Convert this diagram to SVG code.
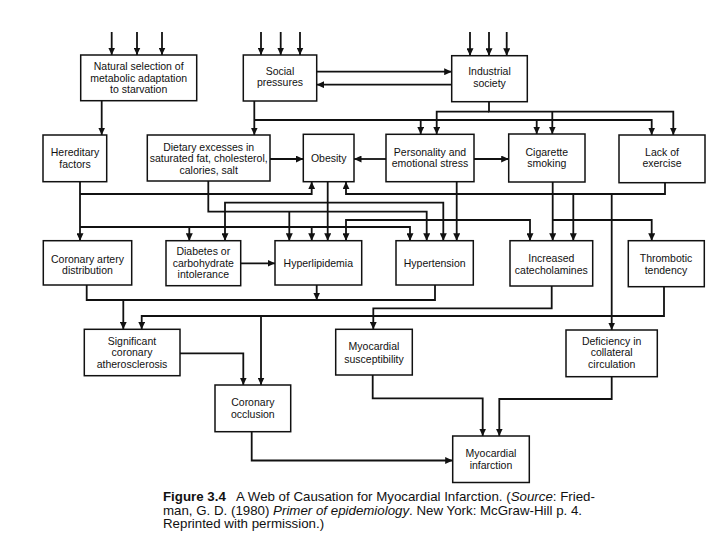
<svg xmlns="http://www.w3.org/2000/svg" width="720" height="540" viewBox="0 0 720 540">
<style>
.box{fill:#fff;stroke:#111;stroke-width:1.5}
.t{font-family:"Liberation Sans",Arial,Helvetica,sans-serif;font-size:10.5px;fill:#111;text-anchor:middle}
.c{fill:none;stroke:#111;stroke-width:1.8}
.a{marker-end:url(#ah)}
.cap{font-family:"Liberation Sans",Arial,Helvetica,sans-serif;font-size:13.3px;fill:#111}
</style>
<defs>
<marker id="ah" markerUnits="userSpaceOnUse" markerWidth="8" markerHeight="7" refX="7.5" refY="3.5" orient="auto">
<path d="M0,0 L7.5,3.5 L0,7 z" fill="#111"/>
</marker>
</defs>
<rect width="720" height="540" fill="#fff"/>

<g id="connectors">
<!-- incoming top arrows -->
<path class="c a" d="M111.7,32 V55"/>
<path class="c a" d="M137,32 V55"/>
<path class="c a" d="M162,32 V55"/>
<path class="c a" d="M261,32 V55"/>
<path class="c a" d="M280.7,32 V55"/>
<path class="c a" d="M300,32 V55"/>
<path class="c a" d="M470,32 V55.7"/>
<path class="c a" d="M489,32 V55.7"/>
<path class="c a" d="M506.7,32 V55.7"/>
<!-- top row -->
<path class="c a" d="M101.7,100.7 V135"/>
<path class="c a" d="M316.7,71.7 H451.7"/>
<path class="c a" d="M451.7,84.7 H316.7"/>
<path class="c a" d="M254.3,101 V135"/>
<path class="c a" d="M254.3,120 H651.7 V135"/>
<path class="c a" d="M420.7,120 V134.3"/>
<path class="c a" d="M536.7,120 V134"/>
<path class="c a" d="M489,101.7 V111.7 H673.3 V135"/>
<path class="c a" d="M489,111.7 H436.7 V134.3"/>
<path class="c a" d="M552.3,111.7 V134"/>
<!-- second row horizontals -->
<path class="c a" d="M270,159 H303.3"/>
<path class="c a" d="M386,159 H354"/>
<path class="c a" d="M474,159 H508.7"/>
<!-- hereditary -->
<path class="c a" d="M80,181.7 V240.7"/>
<path class="c a" d="M80,194 H311.7 V181.7"/>
<path class="c a" d="M80,227 H410 V240.7"/>
<path class="c a" d="M189.3,227 V240.7"/>
<path class="c a" d="M311.7,227 V240.7"/>
<!-- dietary -->
<path class="c a" d="M208.3,181 V211.7 H426.7 V240.7"/>
<path class="c a" d="M289.3,211.7 V240.7"/>
<!-- obesity -->
<path class="c a" d="M327.7,181.7 V240.7"/>
<path class="c a" d="M327.7,202.7 H225 V240.7"/>
<path class="c a" d="M327.7,202.7 H443.3 V240.7"/>
<!-- lack of exercise -->
<path class="c a" d="M665,182.7 V194 H346 V181.7"/>
<path class="c a" d="M573.3,194 V240.7"/>
<path class="c a" d="M611.7,194 V330"/>
<!-- personality -->
<path class="c a" d="M456.7,181.7 V240.7"/>
<path class="c a" d="M456.7,220 H346 V240.7"/>
<path class="c a" d="M456.7,220 H530 V240.7"/>
<!-- cigarette -->
<path class="c a" d="M552.7,182 V240.7"/>
<path class="c a" d="M552.7,220 H651.7 V240.7"/>
<!-- third row to fourth -->
<path class="c" d="M86.7,285 V300 H435 V285"/>
<path class="c a" d="M316.7,285 V300"/>
<path class="c a" d="M123.3,300 V329.3"/>
<path class="c a" d="M551.7,286 V308.3 H373.3 V329.3"/>
<path class="c a" d="M664,286.7 V316 H141.7 V329.3"/>
<path class="c a" d="M261,316 V385"/>
<path class="c a" d="M180,353.3 H243.3 V385"/>
<path class="c a" d="M251.7,431.7 V460.5 H452.7"/>
<path class="c a" d="M372.7,375 V398.3 H482.7 V436"/>
<path class="c a" d="M611.7,376.7 V399 H499.3 V436"/>
</g>

<g id="natural-selection"><rect class="box" x="80.7" y="55" width="116" height="45.7"/>
<text class="t" x="138.7" y="70">Natural selection of</text><text class="t" x="138.7" y="81.5">metabolic adaptation</text><text class="t" x="138.7" y="93">to starvation</text></g>
<g id="social-pressures"><rect class="box" x="243.3" y="55" width="73.4" height="46"/>
<text class="t" x="280" y="74.5">Social</text><text class="t" x="280" y="86">pressures</text></g>
<g id="industrial-society"><rect class="box" x="451.7" y="55.7" width="75.6" height="46"/>
<text class="t" x="489.5" y="75">Industrial</text><text class="t" x="489.5" y="86.5">society</text></g>
<g id="hereditary-factors"><rect class="box" x="43" y="135" width="63.7" height="46.7"/>
<text class="t" x="75" y="156">Hereditary</text><text class="t" x="75" y="167.5">factors</text></g>
<g id="dietary-excesses"><rect class="box" x="147.3" y="135" width="122.7" height="46"/>
<text class="t" x="208.7" y="150.5">Dietary excesses in</text><text class="t" x="208.7" y="162">saturated fat, cholesterol,</text><text class="t" x="208.7" y="173.5">calories, salt</text></g>
<g id="obesity"><rect class="box" x="303.3" y="134.3" width="50.7" height="47.4"/>
<text class="t" x="328.7" y="161.5">Obesity</text></g>
<g id="personality"><rect class="box" x="386" y="134.3" width="88" height="47.4"/>
<text class="t" x="430" y="155.5">Personality and</text><text class="t" x="430" y="167">emotional stress</text></g>
<g id="cigarette-smoking"><rect class="box" x="508.7" y="134" width="76.3" height="48"/>
<text class="t" x="546.8" y="155.5">Cigarette</text><text class="t" x="546.8" y="167">smoking</text></g>
<g id="lack-of-exercise"><rect class="box" x="619" y="135" width="86" height="47.7"/>
<text class="t" x="662" y="155.5">Lack of</text><text class="t" x="662" y="167">exercise</text></g>
<g id="coronary-artery-distribution"><rect class="box" x="43.3" y="240.7" width="88.4" height="44.3"/>
<text class="t" x="87.5" y="262.8">Coronary artery</text><text class="t" x="87.5" y="274">distribution</text></g>
<g id="diabetes"><rect class="box" x="166" y="240.7" width="74.7" height="45"/>
<text class="t" x="203.3" y="255">Diabetes or</text><text class="t" x="203.3" y="266.5">carbohydrate</text><text class="t" x="203.3" y="278">intolerance</text></g>
<path class="c a" d="M240.7,263.3 H275"/>
<g id="hyperlipidemia"><rect class="box" x="275" y="240.7" width="86.7" height="44.3"/>
<text class="t" x="318.3" y="266.5">Hyperlipidemia</text></g>
<g id="hypertension"><rect class="box" x="396" y="240.7" width="77.3" height="44.3"/>
<text class="t" x="434.7" y="266.5">Hypertension</text></g>
<g id="increased-catecholamines"><rect class="box" x="510" y="240.7" width="82.7" height="45.3"/>
<text class="t" x="551.3" y="262">Increased</text><text class="t" x="551.3" y="273.5">catecholamines</text></g>
<g id="thrombotic-tendency"><rect class="box" x="628.3" y="240.7" width="76" height="46"/>
<text class="t" x="666" y="262">Thrombotic</text><text class="t" x="666" y="273.5">tendency</text></g>
<g id="significant-coronary-atherosclerosis"><rect class="box" x="84.3" y="329.3" width="95.7" height="46.4"/>
<text class="t" x="132" y="344.5">Significant</text><text class="t" x="132" y="356">coronary</text><text class="t" x="132" y="367.5">atherosclerosis</text></g>
<g id="myocardial-susceptibility"><rect class="box" x="335.7" y="329.3" width="76.6" height="45.7"/>
<text class="t" x="374" y="350">Myocardial</text><text class="t" x="374" y="362.5">susceptibility</text></g>
<g id="deficiency-collateral-circulation"><rect class="box" x="566" y="330" width="91.3" height="46.7"/>
<text class="t" x="611.7" y="344.5">Deficiency in</text><text class="t" x="611.7" y="356">collateral</text><text class="t" x="611.7" y="367.5">circulation</text></g>
<g id="coronary-occlusion"><rect class="box" x="215" y="385" width="75.7" height="46.7"/>
<text class="t" x="252.8" y="406">Coronary</text><text class="t" x="252.8" y="417.5">occlusion</text></g>
<g id="myocardial-infarction"><rect class="box" x="452.7" y="436" width="76.6" height="46.5"/>
<text class="t" x="491" y="457">Myocardial</text><text class="t" x="491" y="468.5">infarction</text></g>

<g id="caption">
<text class="cap" x="163" y="501"><tspan font-weight="bold">Figure 3.4</tspan><tspan x="236">A Web of Causation for Myocardial Infarction. (</tspan><tspan font-style="italic">Source</tspan><tspan>: Fried-</tspan></text>
<text class="cap" x="163" y="514.5">man, G. D. (1980) <tspan font-style="italic">Primer of epidemiology</tspan>. New York: McGraw-Hill p. 4.</text>
<text class="cap" x="163" y="528">Reprinted with permission.)</text>
</g>
</svg>
